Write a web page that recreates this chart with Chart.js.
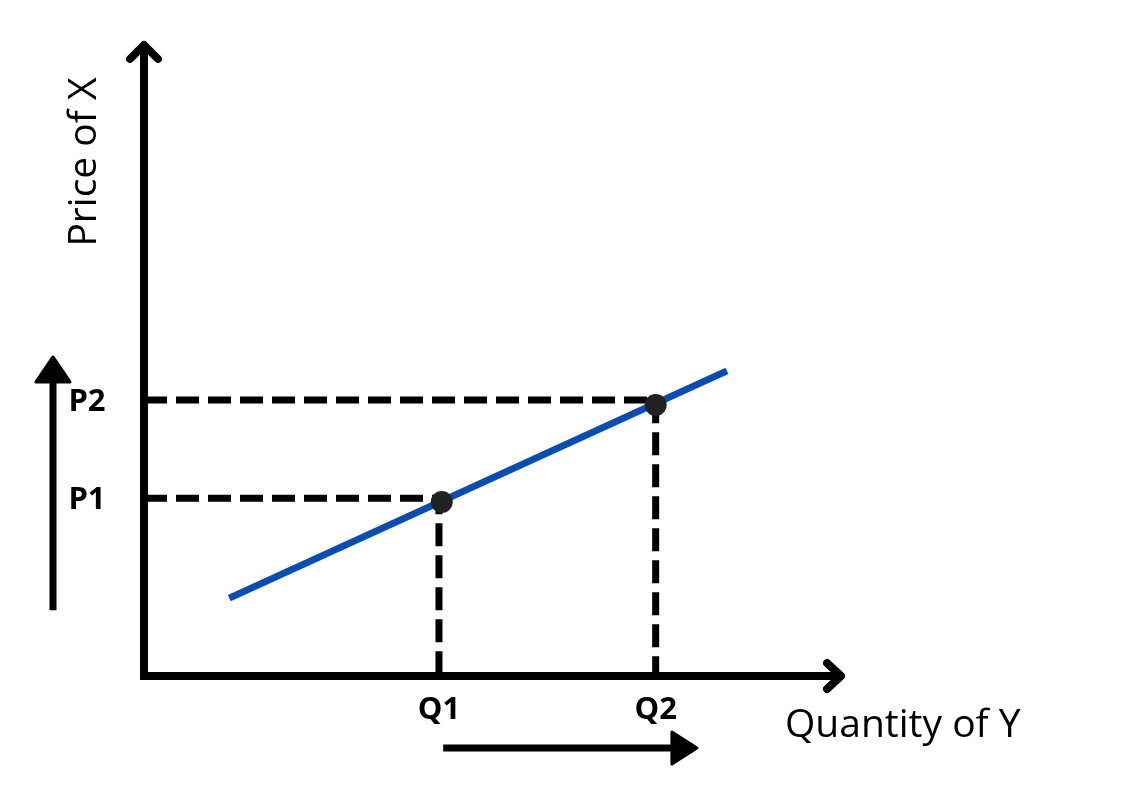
<!DOCTYPE html>
<html>
<head>
<meta charset="utf-8">
<script src="https://cdn.jsdelivr.net/npm/chart.js@4.4.1/dist/chart.umd.min.js"></script>
<style>
  html, body { margin: 0; padding: 0; background: #ffffff; }
  #wrap { width: 1140px; height: 809px; position: relative; }
</style>
</head>
<body>
<div id="wrap"><canvas id="c"></canvas></div>
<script>
// ---- Data (schematic supply curve, axis units 0..10) ----
const supplyX = [1.22, 8.34];
const supplyY = [1.23, 4.82];
const pointX = [4.26, 7.32];
const pointY = [2.75, 4.28];
const guideQ = [4.22, 7.32];
const guideP = [2.81, 4.36];
const priceLabels = ['P1', 'P2'];
const quantityLabels = ['Q1', 'Q2'];
const xTitle = 'Quantity of Y';
const yTitle = 'Price of X';
const axisMax = 10;

const supplyData = supplyX.map((x, i) => ({ x, y: supplyY[i] }));
const pointData = pointX.map((x, i) => ({ x, y: pointY[i] }));
const guideSets = guideQ.map((q, i) => ({
  data: [{ x: 0, y: guideP[i] }, { x: q, y: guideP[i] }, { x: q, y: 0 }],
  showLine: true,
  borderColor: '#000000',
  borderWidth: 7,
  borderDash: [23, 9],
  pointRadius: 0,
  fill: false,
  order: 3,
  clip: false
}));

const diagramPlugin = {
  id: 'diagram',
  afterDatasetsDraw(chart) {
    const ctx = chart.ctx;
    const xs = chart.scales.x, ys = chart.scales.y;
    const x0 = xs.getPixelForValue(0), y0 = ys.getPixelForValue(0);
    const xEnd = xs.getPixelForValue(axisMax), yEnd = ys.getPixelForValue(axisMax);
    ctx.save();
    ctx.strokeStyle = '#000';
    ctx.fillStyle = '#000';
    // axes
    ctx.lineWidth = 8;
    ctx.lineCap = 'butt';
    ctx.beginPath();
    ctx.moveTo(x0, y0 + 4);
    ctx.lineTo(x0, yEnd + 2);
    ctx.moveTo(x0 - 4, y0);
    ctx.lineTo(xEnd - 2, y0);
    ctx.stroke();
    // chevron arrowheads
    ctx.lineCap = 'round';
    ctx.lineJoin = 'round';
    ctx.beginPath();
    ctx.moveTo(x0 - 14, yEnd + 16);
    ctx.lineTo(x0, yEnd + 2);
    ctx.lineTo(x0 + 14, yEnd + 16);
    ctx.moveTo(xEnd - 16, y0 - 13);
    ctx.lineTo(xEnd - 2, y0);
    ctx.lineTo(xEnd - 16, y0 + 13);
    ctx.stroke();

    // shift arrows (filled heads)
    const lax = 53, layBottom = ys.getPixelForValue(1.04), layTop = ys.getPixelForValue(5.04);
    ctx.lineCap = 'butt';
    ctx.lineWidth = 7;
    ctx.beginPath();
    ctx.moveTo(lax, layBottom);
    ctx.lineTo(lax, layTop + 20);
    ctx.stroke();
    ctx.beginPath();
    ctx.moveTo(lax, layTop);
    ctx.lineTo(lax - 17, layTop + 25);
    ctx.lineTo(lax + 17, layTop + 25);
    ctx.closePath();
    ctx.lineJoin = 'round';
    ctx.lineWidth = 3;
    ctx.fill();
    ctx.stroke();

    const bay = 748, baxL = xs.getPixelForValue(4.28), baxR = xs.getPixelForValue(7.91);
    ctx.lineWidth = 7;
    ctx.beginPath();
    ctx.moveTo(baxL, bay);
    ctx.lineTo(baxR - 20, bay);
    ctx.stroke();
    ctx.beginPath();
    ctx.moveTo(baxR, bay);
    ctx.lineTo(baxR - 25, bay - 16);
    ctx.lineTo(baxR - 25, bay + 16);
    ctx.closePath();
    ctx.lineWidth = 3;
    ctx.fill();
    ctx.stroke();

    // tick labels
    ctx.font = 'bold 31px "Open Sans", "Noto Sans", sans-serif';
    ctx.textAlign = 'center';
    ctx.textBaseline = 'alphabetic';
    guideP.forEach((p, i) => {
      ctx.fillText(priceLabels[i], 87, ys.getPixelForValue(p) + 11);
    });
    guideQ.forEach((q, i) => {
      ctx.fillText(quantityLabels[i], xs.getPixelForValue(q), y0 + 43);
    });

    // axis titles
    ctx.font = '39px "Open Sans", "Noto Sans", sans-serif';
    ctx.textAlign = 'left';
    ctx.fillText(xTitle, 785, 737);
    ctx.save();
    ctx.translate(96, 162);
    ctx.rotate(-Math.PI / 2);
    ctx.textAlign = 'center';
    ctx.fillText(yTitle, 0, 0);
    ctx.restore();
    ctx.restore();
  }
};

new Chart(document.getElementById('c'), {
  type: 'scatter',
  data: {
    datasets: [
      {
        data: pointData,
        showLine: false,
        pointRadius: 11,
        pointHoverRadius: 11,
        pointBackgroundColor: '#222222',
        pointBorderWidth: 0,
        order: 1,
        clip: false
      },
      {
        data: supplyData,
        showLine: true,
        borderColor: '#0a4db0',
        borderWidth: 7,
        borderCapStyle: 'butt',
        pointRadius: 0,
        fill: false,
        order: 2,
        clip: false
      },
      ...guideSets
    ]
  },
  options: {
    responsive: true,
    maintainAspectRatio: false,
    animation: false,
    events: [],
    layout: { padding: { left: 144, right: 297, top: 43, bottom: 133 } },
    plugins: { legend: { display: false }, tooltip: { enabled: false } },
    scales: {
      x: { type: 'linear', min: 0, max: axisMax, display: false },
      y: { type: 'linear', min: 0, max: axisMax, display: false }
    }
  },
  plugins: [diagramPlugin]
});
</script>
</body>
</html>
